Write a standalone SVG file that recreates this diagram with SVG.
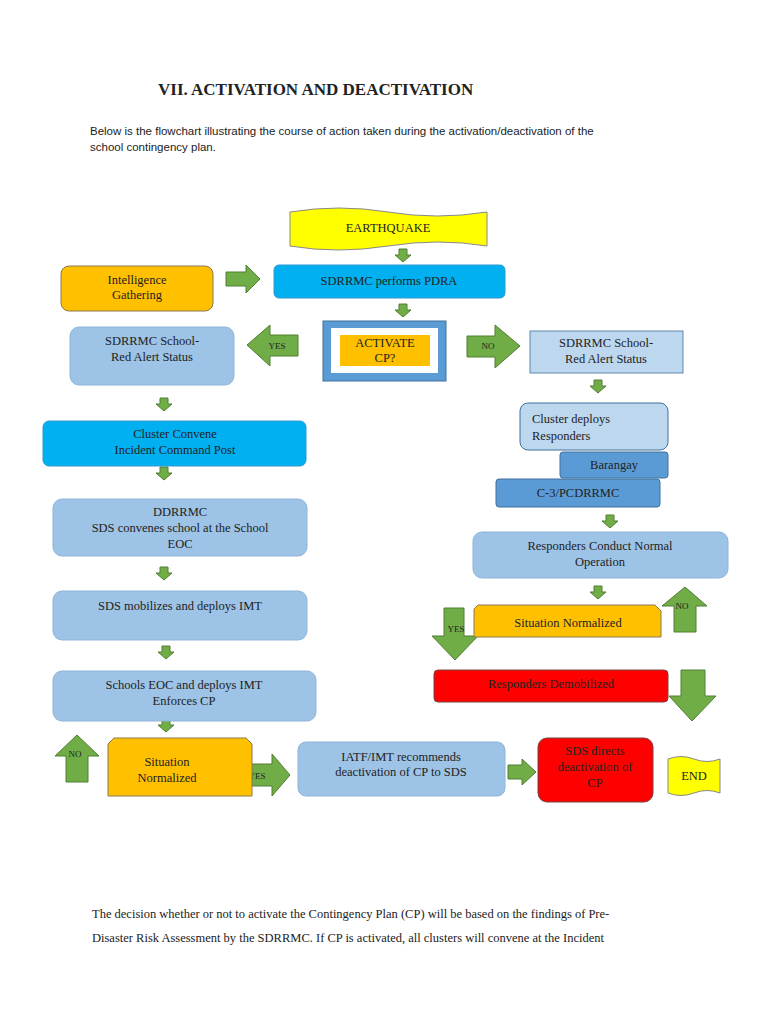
<svg xmlns="http://www.w3.org/2000/svg" width="768" height="1024" viewBox="0 0 768 1024">
<style>
text{font-family:"Liberation Serif","Times New Roman",serif;font-size:12.5px;fill:#222;text-anchor:middle}
.s{font-family:"Liberation Sans",Arial,sans-serif;text-anchor:start;font-size:11.5px}
.lb{font-size:9px}
.ar{fill:#70ad47;stroke:#507e32;stroke-width:1}
.lblue{fill:#9dc3e6;stroke:#8fb4d9}
.cyan{fill:#00b0f0;stroke:#2e9ad0}
.or{fill:#ffc000;stroke:#8a7a50}
.red{fill:#ff0000;stroke:#7a4040}
.mid{fill:#5b9bd5;stroke:#41719c}
</style>
<defs>
<path id="da" d="M-4,0h8v6h4l-8,7l-8,-7h4z" class="ar"/>
</defs>
<rect width="768" height="1024" fill="#fff"/>
<text x="158" y="95" style="text-anchor:start;font-weight:bold;font-size:17px">VII.   ACTIVATION AND DEACTIVATION</text>
<text class="s" x="90" y="135">Below is the flowchart illustrating the course of action taken during the activation/deactivation of the</text>
<text class="s" x="90" y="151">school contingency plan.</text>

<g id="connectors">
<use href="#da" x="403" y="249"/>
<use href="#da" x="403" y="304"/>
<use href="#da" x="164" y="398"/>
<use href="#da" x="598" y="380"/>
<use href="#da" x="164" y="467"/>
<use href="#da" x="610" y="515"/>
<use href="#da" x="164" y="567"/>
<use href="#da" x="598" y="586"/>
<use href="#da" x="166" y="646"/>
<use href="#da" x="166" y="719"/>
<path class="ar" d="M226,272h20v-7l14,14l-14,14v-7h-20z"/>
<path class="ar" d="M298,335h-28v-10l-23,20l23,21v-10h28z"/>
<text class="lb" x="277" y="349">YES</text>
<path class="ar" d="M467,336h28v-11l25,21l-25,22v-11h-28z"/>
<text class="lb" x="488" y="349">NO</text>
<path class="ar" d="M444,608h20v28h14l-23,24l-23,-24h12z"/>
<text class="lb" x="456" y="632">YES</text>
<path class="ar" d="M674,632v-26h-12l23,-19l22,19h-11v26z"/>
<text class="lb" x="682" y="609">NO</text>
<path class="ar" d="M681,670h24v26h11l-24,25l-23,-25h12z"/>
<path class="ar" d="M66,782v-26h-11l22,-21l22,21h-11v26z"/>
<text class="lb" x="75" y="757">NO</text>
<path class="ar" d="M236,764h36v-10l18,21l-18,21v-10h-36z"/>
<text class="lb" x="257" y="779">YES</text>
<path class="ar" d="M508,765h14v-6l14,13l-14,13v-6h-14z"/>
</g>

<g id="earthquake"><path d="M290,212q49,-8 98,0t99,0v34q-49,-8 -99,0t-98,0z" fill="#ffff00" stroke="#888"/><text x="388" y="232">EARTHQUAKE</text></g>
<g id="intel"><rect x="61" y="266" width="152" height="45" rx="8" class="or"/><text x="137" y="284">Intelligence</text><text x="137" y="299">Gathering</text></g>
<g id="pdra"><rect x="274" y="265" width="231" height="33" rx="5" class="cyan"/><text x="389" y="285">SDRRMC performs PDRA</text></g>
<g id="activate"><rect x="323" y="321" width="123" height="60" fill="#5b9bd5" stroke="#41719c"/><rect x="331" y="328" width="107" height="45" fill="#fff"/><rect x="340" y="335" width="90" height="31" fill="#ffc000"/><text x="385" y="347">ACTIVATE</text><text x="385" y="362">CP?</text></g>
<g id="redleft"><rect x="70" y="327" width="164" height="58" rx="9" class="lblue"/><text x="152" y="345">SDRRMC   School-</text><text x="152" y="361">Red Alert Status</text></g>
<g id="redright"><rect x="530" y="331" width="153" height="42" fill="#bdd7ee" stroke="#41719c" stroke-width="0.8"/><text x="606" y="347">SDRRMC School-</text><text x="606" y="363">Red Alert Status</text></g>
<g id="cluster"><rect x="43" y="421" width="263" height="45" rx="6" class="cyan"/><text x="175" y="438">Cluster Convene</text><text x="175" y="454">Incident Command Post</text></g>
<g id="deploys"><rect x="520" y="403" width="148" height="47" rx="8" fill="#bdd7ee" stroke="#41719c"/><text x="532" y="423" style="text-anchor:start">Cluster deploys</text><text x="532" y="440" style="text-anchor:start">Responders</text></g>
<g id="barangay"><rect x="560" y="452" width="108" height="26" rx="3" class="mid"/><text x="614" y="469">Barangay</text></g>
<g id="c3"><rect x="496" y="479" width="164" height="28" rx="3" class="mid"/><text x="578" y="497">C-3/PCDRRMC</text></g>
<g id="ddrrmc"><rect x="53" y="499" width="254" height="57" rx="9" class="lblue"/><text x="180" y="516">DDRRMC</text><text x="180" y="532">SDS convenes school at the School</text><text x="180" y="548">EOC</text></g>
<g id="respond"><rect x="473" y="532" width="255" height="46" rx="9" class="lblue"/><text x="600" y="550">Responders Conduct Normal</text><text x="600" y="566">Operation</text></g>
<g id="mobil"><rect x="53" y="591" width="254" height="49" rx="9" class="lblue"/><text x="180" y="610">SDS mobilizes and deploys IMT</text></g>
<g id="sitright"><path d="M478,605h177l6,6v26h-187v-28z" class="or"/><text x="568" y="627">Situation Normalized</text></g>
<g id="schools"><rect x="53" y="671" width="263" height="50" rx="9" class="lblue"/><text x="184" y="689">Schools EOC and deploys IMT</text><text x="184" y="705">Enforces CP</text></g>
<g id="demob"><rect x="434" y="670" width="234" height="32" rx="4" class="red"/><text x="551" y="688">Responders Demobilized</text></g>
<g id="sitleft"><path d="M114,738h132l6,6v52h-144v-52z" class="or"/><text x="167" y="766">Situation</text><text x="167" y="782">Normalized</text></g>
<g id="iatf"><rect x="298" y="742" width="207" height="54" rx="8" class="lblue"/><text x="401" y="761">IATF/IMT recommends</text><text x="401" y="776">deactivation of CP to SDS</text></g>
<g id="sdsdir"><rect x="538" y="738" width="115" height="64" rx="9" class="red"/><text x="595" y="755">SDS directs</text><text x="595" y="771">deactivation of</text><text x="595" y="787">CP</text></g>
<g id="end"><path d="M668,759q13,-5 26,0t26,0v34q-13,-5 -26,0t-26,0z" fill="#ffff00" stroke="#888"/><text x="694" y="780">END</text></g>

<text x="92" y="918" style="text-anchor:start;font-size:12.5px">The decision whether or not to activate the Contingency Plan (CP) will be based on the findings of Pre-</text>
<text x="92" y="942" style="text-anchor:start;font-size:12.5px">Disaster Risk Assessment by the SDRRMC.  If CP is activated, all clusters will convene at the Incident</text>
</svg>
